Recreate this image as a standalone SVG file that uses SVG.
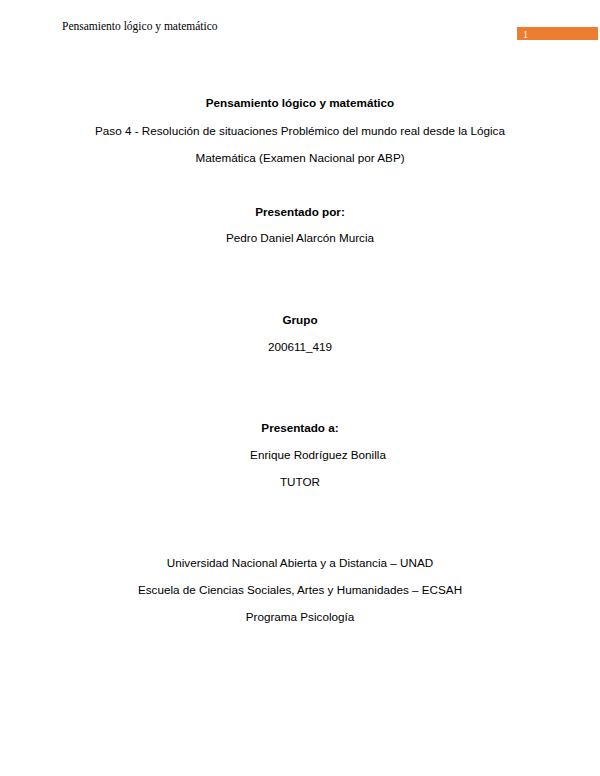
<svg xmlns="http://www.w3.org/2000/svg" width="600" height="776" viewBox="0 0 600 776">
<style>
.t{font-family:"Liberation Sans",Arial,sans-serif;font-size:11.7px;fill:#000;text-anchor:middle}
.b{font-weight:bold}
</style>
<rect width="600" height="776" fill="#fff"/>
<text x="62" y="30" font-family="Liberation Serif,serif" font-size="11.5">Pensamiento lógico y matemático</text>
<rect x="517" y="27" width="81" height="13" fill="#ed7d31"/>
<text x="523" y="37.5" font-family="Liberation Serif,serif" font-size="10" fill="#fff">1</text>
<text class="t b" x="300" y="107">Pensamiento lógico y matemático</text>
<text class="t" x="300" y="135">Paso 4 - Resolución de situaciones Problémico del mundo real desde la Lógica</text>
<text class="t" x="300" y="162">Matemática (Examen Nacional por ABP)</text>
<text class="t b" x="300" y="216">Presentado por:</text>
<text class="t" x="300" y="242">Pedro Daniel Alarcón Murcia</text>
<text class="t b" x="300" y="324">Grupo</text>
<text class="t" x="300" y="351">200611_419</text>
<text class="t b" x="300" y="432">Presentado a:</text>
<text class="t" x="318" y="459">Enrique Rodríguez Bonilla</text>
<text class="t" x="300" y="486">TUTOR</text>
<text class="t" x="300" y="567">Universidad Nacional Abierta y a Distancia – UNAD</text>
<text class="t" x="300" y="594">Escuela de Ciencias Sociales, Artes y Humanidades – ECSAH</text>
<text class="t" x="300" y="621">Programa Psicología</text>
</svg>
